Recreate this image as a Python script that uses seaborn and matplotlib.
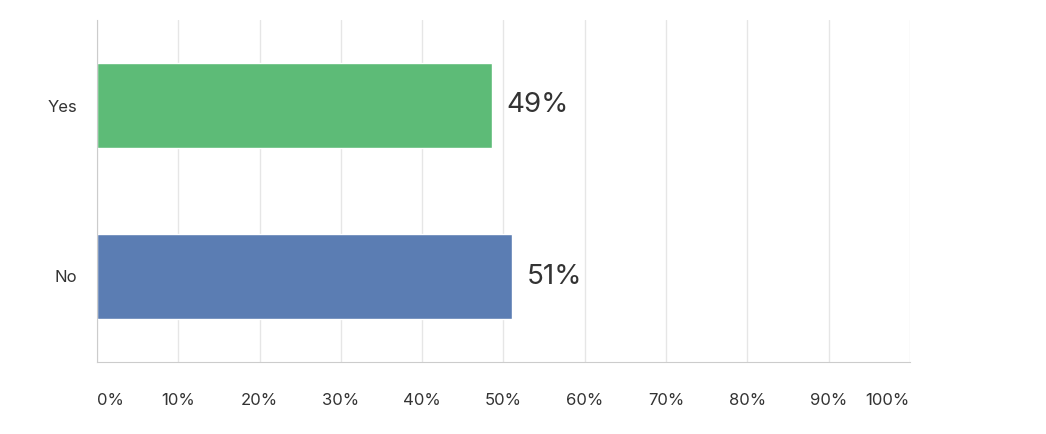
import matplotlib
matplotlib.use("Agg")
import matplotlib.pyplot as plt
import seaborn as sns
import pandas as pd

categories = ["Yes", "No"]
values = [48.6, 51.1]
labels = ["49%", "51%"]
colors = ["#5dbb77", "#5b7db3"]
ticks = [0, 10, 20, 30, 40, 50, 60, 70, 80, 90, 100]
tick_labels = [f"{t}%" for t in ticks]

sns.set_style("white")
plt.rcParams["font.family"] = ["Inter", "DejaVu Sans"]

fig = plt.figure(figsize=(10.46, 4.34), dpi=100)
ax = fig.add_axes([97/1046, 72/434, 813/1046, 342/434])
df = pd.DataFrame({"cat": categories, "val": values})
sns.barplot(data=df, x="val", y="cat", hue="cat", palette=colors, legend=False,
            width=0.5, ax=ax, saturation=1)
ax.set_xlim(0, 100)
ax.set_ylim(1.5, -0.5)
ax.set_xticks(ticks)
ax.set_xticklabels(tick_labels, fontsize=12, color="#333333")
for i, t in enumerate(ax.get_xticklabels()):
    if i == 0:
        t.set_ha("left")
    elif i == len(ticks) - 1:
        t.set_ha("right")
ax.tick_params(axis="x", length=0, pad=22)
ax.tick_params(axis="y", length=0, pad=14, labelsize=12, labelcolor="#333333")
ax.set_xlabel("")
ax.set_ylabel("")
ax.grid(axis="x", color="#e6e6e6", linewidth=1)
ax.set_axisbelow(True)
for s in ["top", "right"]:
    ax.spines[s].set_visible(False)
for s in ["left", "bottom"]:
    ax.spines[s].set_color("#cccccc")
for i, (v, l) in enumerate(zip(values, labels)):
    ax.text(v + 1.8, i, l, va="center", ha="left", fontsize=20, color="#333333")
fig.savefig("out.png", dpi=100)
